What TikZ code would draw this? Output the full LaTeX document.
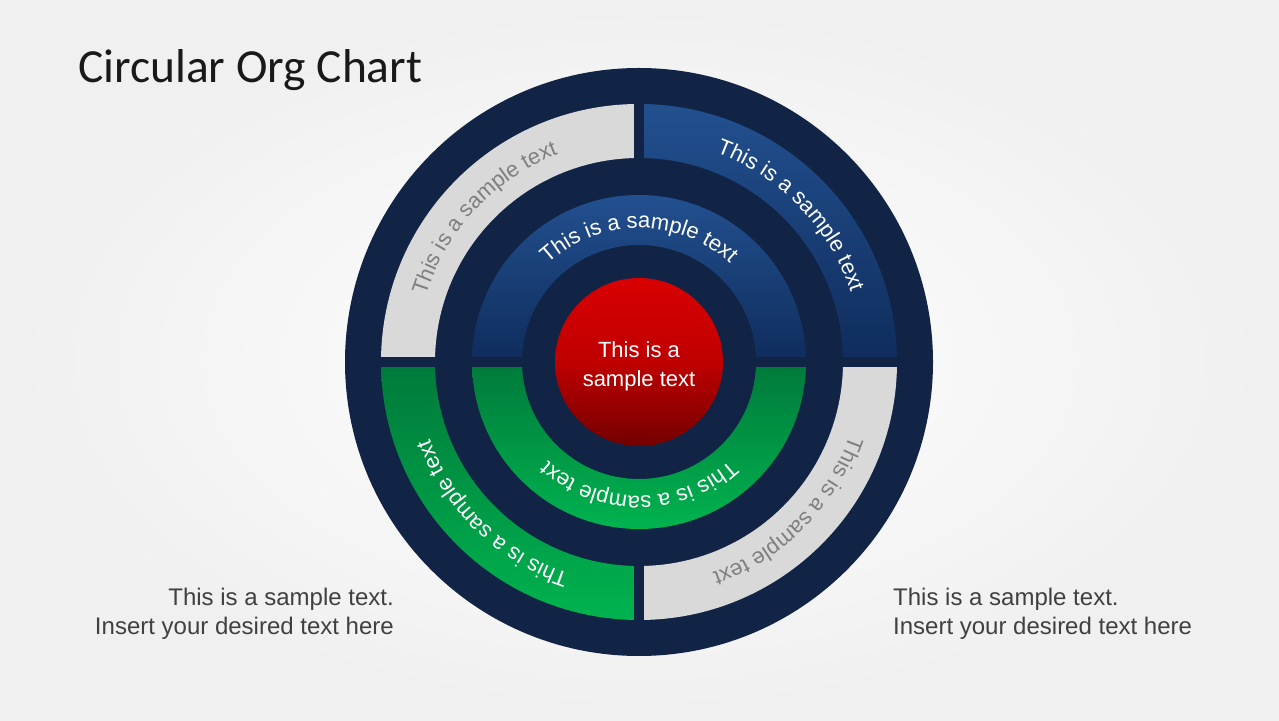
\documentclass[tikz,border=0pt]{standalone}
\usepackage{fontspec}
\setmainfont{Liberation Sans}
\newfontfamily\titlefont{Carlito}
\usetikzlibrary{decorations.text}
\definecolor{navy}{HTML}{112445}
\definecolor{bluetop}{HTML}{22508F}
\definecolor{bluebot}{HTML}{0F2C5C}
\definecolor{greentop}{HTML}{00793A}
\definecolor{greenbot}{HTML}{00B34F}
\definecolor{grayseg}{HTML}{D9D9D9}
\definecolor{graytxt}{HTML}{7F7F7F}
\definecolor{bodytxt}{HTML}{404040}
\tikzset{
  curvtxt/.style 2 args={decorate,decoration={text along path,text align=center,
     text={|\fontsize{#1}{#1}\selectfont\color{#2}|This is a sample text}}},
  side/.style={font=\fontsize{24}{29}\selectfont,text=bodytxt,inner sep=0pt}
}
\begin{document}
\begin{tikzpicture}[x=1pt,y=1pt]
\shade[inner color=white,outer color=black!6] (0,0) rectangle (1279,720);
\useasboundingbox (0,0) rectangle (1279,720);
\node[anchor=base west,inner sep=0pt,font=\titlefont\fontsize{47.5}{47.5}\selectfont,text=black!90] (title) at (78,637) {Circular Org Chart};
\coordinate (c) at (639,358);
\fill[navy] (c) circle (294);
\begin{scope}[shift={(c)}]
 \fill[grayseg] (90:258) arc[start angle=90,end angle=180,radius=258] -- (180:204) arc[start angle=180,end angle=90,radius=204] -- cycle;
 \shade[top color=bluetop,bottom color=bluebot] (0:258) arc[start angle=0,end angle=90,radius=258] -- (90:204) arc[start angle=90,end angle=0,radius=204] -- cycle;
 \shade[top color=greentop,bottom color=greenbot] (180:258) arc[start angle=180,end angle=270,radius=258] -- (270:204) arc[start angle=270,end angle=180,radius=204] -- cycle;
 \fill[grayseg] (270:258) arc[start angle=270,end angle=360,radius=258] -- (0:204) arc[start angle=0,end angle=-90,radius=204] -- cycle;
 \fill[navy] (-5,-270) rectangle (5,270);
 \fill[navy] (-270,-5) rectangle (270,5);
 \shade[top color=bluetop,bottom color=bluebot] (0:167) arc[start angle=0,end angle=180,radius=167] -- (180:117) arc[start angle=180,end angle=0,radius=117] -- cycle;
 \shade[top color=greentop,bottom color=greenbot] (180:167) arc[start angle=180,end angle=360,radius=167] -- (0:117) arc[start angle=360,end angle=180,radius=117] -- cycle;
 \fill[navy] (-180,-5) rectangle (180,5);
 \path[curvtxt={22}{graytxt}] (178:223) arc[start angle=178,end angle=96,radius=223];
 \path[curvtxt={22}{white}] (86:223) arc[start angle=86,end angle=2,radius=223];
 \path[curvtxt={22}{white}] (268:223) arc[start angle=268,end angle=184,radius=223];
 \path[curvtxt={22}{graytxt}] (-2:223) arc[start angle=-2,end angle=-88,radius=223];
 \path[curvtxt={22}{white}] (165:134) arc[start angle=165,end angle=15,radius=134];
 \path[curvtxt={22}{white}] (345:134) arc[start angle=345,end angle=195,radius=134];
 \shade[top color=red!85!black,bottom color=red!45!black,middle color=red!75!black] (0,0) circle (84);
\end{scope}
\node[font=\fontsize{22}{29}\selectfont,text=white,align=center] (core) at ([yshift=-4]c) {This is a\\sample text};
\node[side,anchor=north east,align=right] (left) at (394,132) {This is a sample text.\\Insert your desired text here};
\node[side,anchor=north west,align=left] (right) at (893,132) {This is a sample text.\\Insert your desired text here};
\end{tikzpicture}
\end{document}
